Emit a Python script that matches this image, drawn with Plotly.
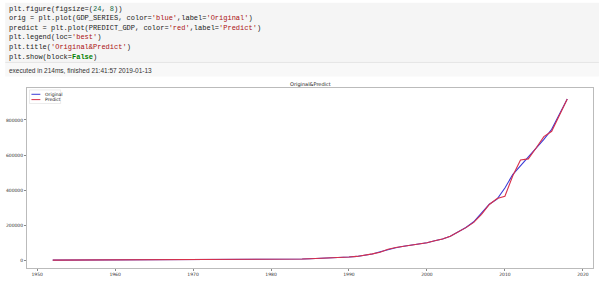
import plotly.graph_objects as go

years = list(range(1952, 2019))
gdp_original = [679, 824, 859, 910, 1028, 1068, 1307, 1439, 1457, 1220,
                1149, 1233, 1454, 1716, 1868, 1773, 1723, 1937, 2252, 2426,
                2518, 2720, 2789, 2997, 2943, 3201, 3679, 4101, 4588, 4936,
                5373, 6021, 7279, 9099, 10376, 12175, 15180, 17180, 18873, 22006,
                27195, 35673, 48638, 61340, 71814, 79715, 85196, 90564, 100280, 110863,
                121717, 137422, 161840, 187319, 219439, 270092, 319245, 348518, 412119, 487940,
                538580, 592963, 643563, 688858, 746395, 832036, 919281]
gdp_predict = [679, 824, 859, 910, 1028, 1068, 1307, 1439, 1457, 1220,
               1149, 1233, 1454, 1716, 1868, 1773, 1723, 1937, 2252, 2426,
               2518, 2720, 2789, 2997, 2943, 3201, 3679, 4101, 4588, 4936,
               5373, 6021, 7279, 9099, 10376, 12175, 15180, 17180, 18873, 22006,
               27195, 36500, 46000, 62500, 72500, 79715, 85196, 90564, 100280, 110863,
               121717, 137422, 161840, 186000, 216000, 262000, 318000, 352000, 365000, 480000,
               572000, 578000, 640000, 705000, 735000, 826000, 919281]
series_names = ["Original", "Predict"]
series_colors = ["#3b3bd6", "#d8304a"]
x_ticks = [1950, 1960, 1970, 1980, 1990, 2000, 2010, 2020]
y_ticks = [0, 200000, 400000, 600000, 800000]

code_lines = [
    "plt.figure(figsize=(<span style='color:#116644'>24</span>, <span style='color:#116644'>8</span>))",
    "orig = plt.plot(GDP_SERIES, color=<span style='color:#aa1111'>'blue'</span>,label=<span style='color:#aa1111'>'Original'</span>)",
    "predict = plt.plot(PREDICT_GDP, color=<span style='color:#aa1111'>'red'</span>,label=<span style='color:#aa1111'>'Predict'</span>)",
    "plt.legend(loc=<span style='color:#aa1111'>'best'</span>)",
    "plt.title(<span style='color:#aa1111'>'Original&amp;Predict'</span>)",
    "plt.show(block=<span style='color:#008000'><b>False</b></span>)",
]
code_y = [6, 16, 26, 35.5, 45.5, 55.5]

W, H = 600, 283
L, R, T, B = 22, 594, 88, 274

def px(x):
    return (x - L) / (R - L)

def py(y):
    return (B - y) / (B - T)

fig = go.Figure()
for name, vals, col in zip(series_names, [gdp_original, gdp_predict], series_colors):
    fig.add_trace(go.Scatter(x=years, y=vals, mode="lines", name=name,
                             line=dict(color=col, width=1.1), showlegend=False))

shapes = [
    dict(type="rect", xref="paper", yref="paper", x0=px(0), x1=px(W), y0=py(61), y1=py(0),
         fillcolor="#f5f5f5", line=dict(width=0), layer="below"),
    dict(type="rect", xref="paper", yref="paper", x0=px(0), x1=px(W), y0=py(76), y1=py(62),
         fillcolor="#f8f8f8", line=dict(width=0), layer="below"),
    dict(type="line", xref="paper", yref="paper", x0=px(0), x1=px(W), y0=py(61.5), y1=py(61.5),
         line=dict(color="#e2e2e2", width=1)),
    # legend box
    dict(type="rect", xref="paper", yref="paper", x0=px(24.5), x1=px(56), y0=py(104), y1=py(90),
         fillcolor="rgba(255,255,255,0.9)", line=dict(color="#dddddd", width=0.6)),
]
annotations = []
for i, (name, col) in enumerate(zip(series_names, series_colors)):
    ly = 94.5 + 5.5 * i
    shapes.append(dict(type="line", xref="paper", yref="paper", x0=px(26.5), x1=px(35.5),
                       y0=py(ly), y1=py(ly), line=dict(color=col, width=1)))
    annotations.append(dict(text=name, xref="paper", yref="paper", x=px(38), y=py(ly),
                            xanchor="left", yanchor="middle", showarrow=False,
                            font=dict(family="DejaVu Sans", size=4.5, color="#222")))

for t, y in zip(code_lines, code_y):
    annotations.append(dict(text=t, xref="paper", yref="paper", x=px(2), y=py(y),
                            xanchor="left", yanchor="middle", showarrow=False,
                            font=dict(family="Liberation Mono", size=7, color="#222")))
annotations.append(dict(text="executed in 214ms, finished 21:41:57 2019-01-13", xref="paper", yref="paper",
                        x=px(2), y=py(69.5), xanchor="left", yanchor="middle", showarrow=False,
                        font=dict(family="Liberation Sans", size=6.5, color="#333")))
annotations.append(dict(text="Original&amp;Predict", xref="paper", yref="paper",
                        x=0.5, y=py(84), xanchor="center", yanchor="middle", showarrow=False,
                        font=dict(family="DejaVu Sans", size=5, color="#222")))

fig.update_layout(
    width=W, height=H,
    margin=dict(l=L, r=W - R, t=T, b=H - B, pad=0),
    paper_bgcolor="white", plot_bgcolor="white",
    shapes=shapes, annotations=annotations,
    showlegend=False,
    xaxis=dict(range=[1948.7, 2021.3], tickvals=x_ticks, ticks="outside", ticklen=2,
               tickcolor="#888", tickfont=dict(family="DejaVu Sans", size=4.5, color="#333"),
               showgrid=False, zeroline=False, showline=True, mirror=True,
               linecolor="#bbb", linewidth=1),
    yaxis=dict(range=[-44000, 982000], tickvals=y_ticks, tickformat="d", ticks="outside",
               ticklen=2, tickcolor="#888", tickfont=dict(family="DejaVu Sans", size=4.5, color="#333"),
               showgrid=False, zeroline=False, showline=True, mirror=True,
               linecolor="#bbb", linewidth=1),
)

fig.write_html("out.html")
